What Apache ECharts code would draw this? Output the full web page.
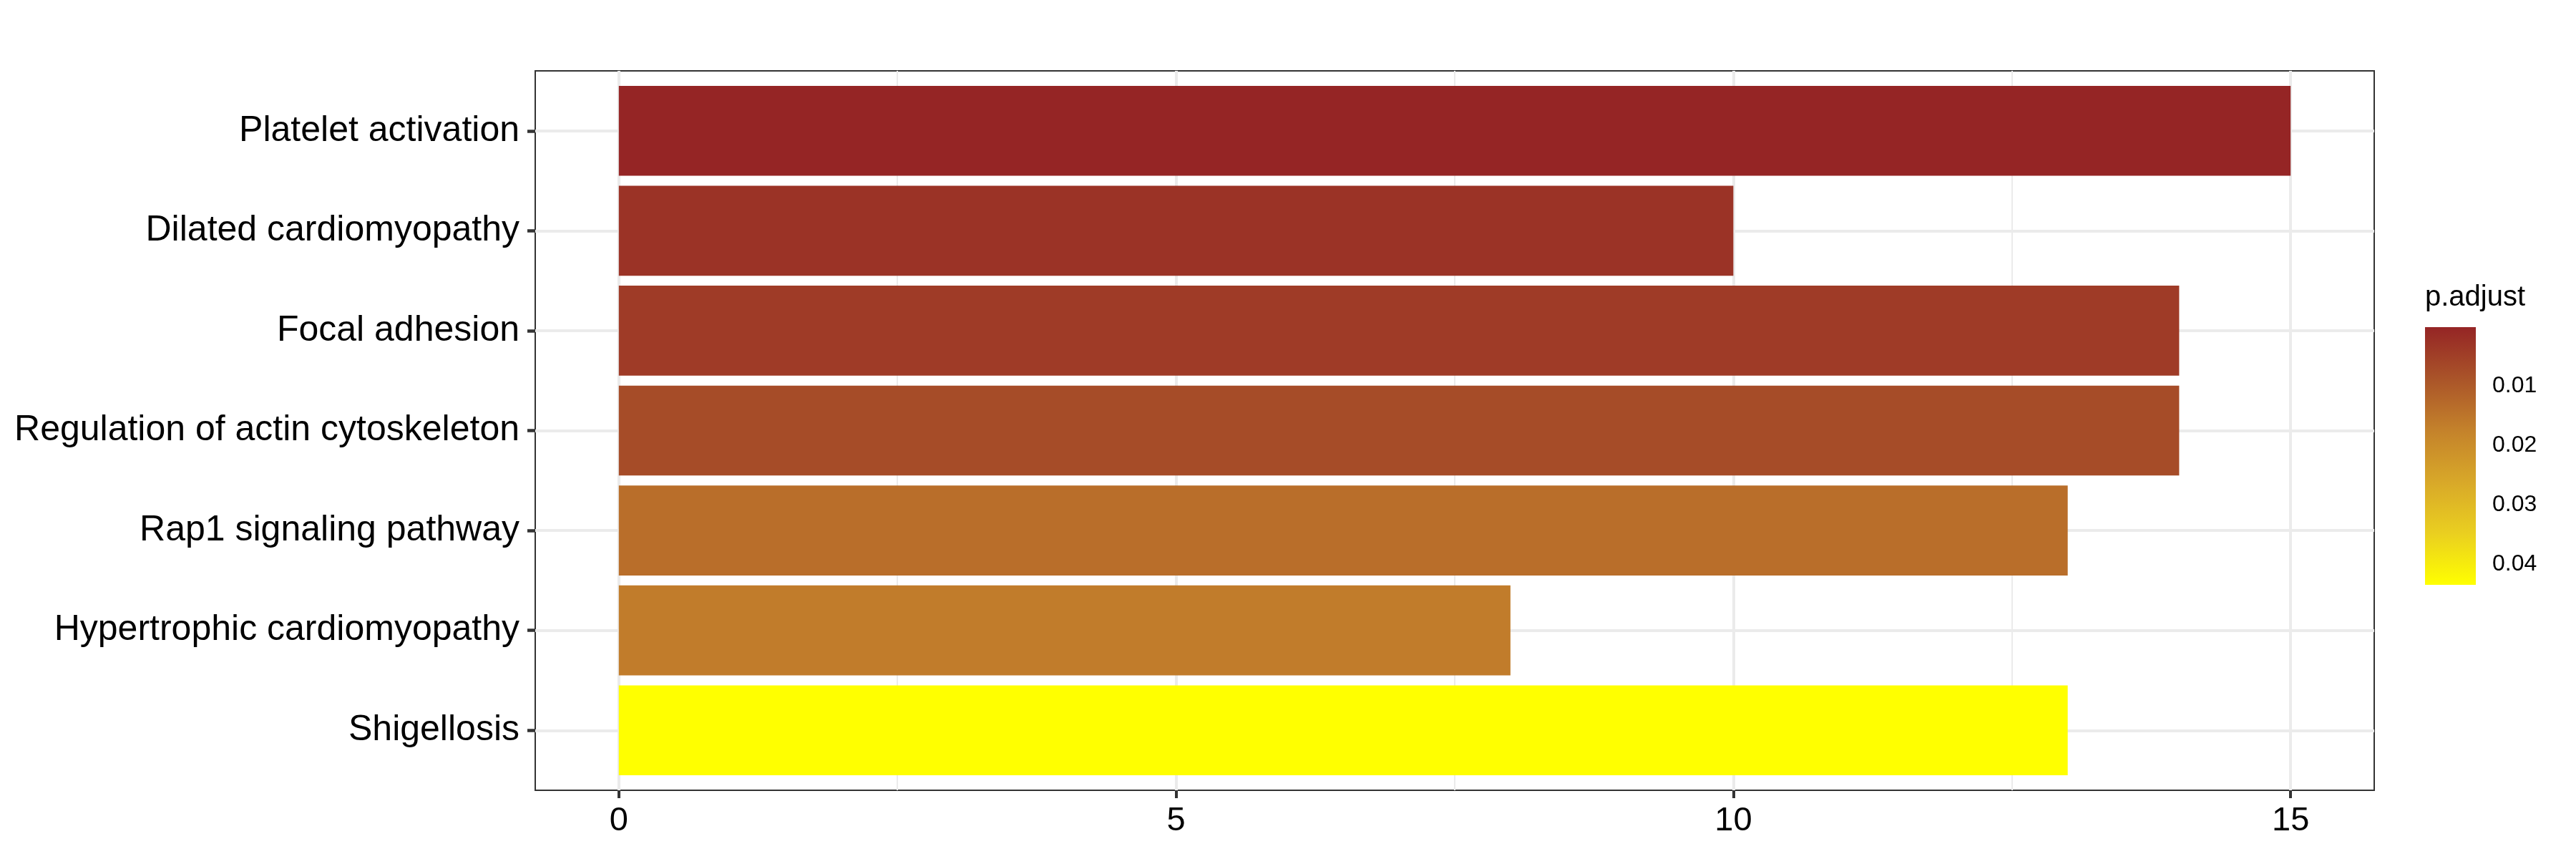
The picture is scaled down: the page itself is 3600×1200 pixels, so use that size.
<!DOCTYPE html>
<html>
<head>
<meta charset="utf-8">
<script src="https://cdn.jsdelivr.net/npm/echarts@6/dist/echarts.min.js"></script>
<style>
  html, body { margin: 0; padding: 0; background: #fff; }
  #chart { width: 3600px; height: 1200px; }
</style>
</head>
<body>
<div id="chart"></div>
<script>
// pathways, top to bottom
var pathways = ['Platelet activation', 'Dilated cardiomyopathy', 'Focal adhesion',
    'Regulation of actin cytoskeleton', 'Rap1 signaling pathway',
    'Hypertrophic cardiomyopathy', 'Shigellosis'];
var counts = [15, 10, 14, 14, 13, 8, 13];
var padjust = [0.00002, 0.0027, 0.0040, 0.0072, 0.0137, 0.0163, 0.0435];
var legendTicks = [0.01, 0.02, 0.03, 0.04];
var colorRamp = ['#952525', '#aa5429', '#c4822b', '#d8a829', '#eacf20', '#ffff00'];

var chart = echarts.init(document.getElementById('chart'));

// panel geometry (ggplot style expand: 0.05 on x, 0.6 units on discrete y)
var panel = {left: 748, right: 3318, top: 99, bottom: 1104};
var xMin = -0.75, xMax = 15.75;
var unit = (panel.right - panel.left) / (xMax - xMin);
var band = (panel.bottom - panel.top) / (pathways.length - 1 + 1.2);
var font = '"Liberation Sans", Arial, sans-serif';

var pMin = Math.min.apply(null, padjust);
var pMax = Math.max.apply(null, padjust);

var barData = [];
for (var i = 0; i < pathways.length; i++) {
    barData.push([counts[i], pathways[i], padjust[i]]);
}

var stops = colorRamp.map(function (c, i) {
    return {offset: i / (colorRamp.length - 1), color: c};
});

option = {
    backgroundColor: '#ffffff',
    animation: false,
    title: {
        text: 'p.adjust',
        left: 3389, top: 396, padding: 0,
        textStyle: {fontFamily: font, fontSize: 40, fontWeight: 'normal', color: '#000'}
    },
    visualMap: {
        show: false,
        type: 'continuous',
        seriesIndex: 0,
        dimension: 2,
        min: pMin, max: pMax,
        inRange: {color: colorRamp}
    },
    grid: [
        // 0: bars + category axis (inset by 0.6 band top/bottom)
        {left: panel.left, width: panel.right - panel.left,
         top: panel.top + 0.6 * band, height: (pathways.length - 1) * band},
        // 1: x axis grid lines/ticks (0..15 horizontally, full height)
        {left: panel.left + (0 - xMin) * unit, width: 15 * unit,
         top: panel.top, height: panel.bottom - panel.top},
        // 2: panel frame
        {show: true, left: panel.left, width: panel.right - panel.left,
         top: panel.top, height: panel.bottom - panel.top,
         borderColor: '#333333', borderWidth: 2, backgroundColor: 'transparent'},
        // 3: colour bar
        {left: 3389, width: 71, top: 457, height: 360}
    ],
    xAxis: [
        {gridIndex: 0, type: 'value', min: xMin, max: xMax, show: false},
        {gridIndex: 1, type: 'value', min: 0, max: 15, interval: 5,
         axisLine: {show: false},
         axisTick: {show: true, length: 11, lineStyle: {color: '#333333', width: 4}},
         axisLabel: {fontFamily: font, fontSize: 47, color: '#000', margin: 20},
         splitLine: {show: true, lineStyle: {color: '#EBEBEB', width: 4}},
         minorTick: {show: false, splitNumber: 2},
         minorSplitLine: {show: true, lineStyle: {color: '#EBEBEB', width: 2}}},
        {gridIndex: 2, type: 'value', show: false},
        {gridIndex: 3, type: 'value', min: 0, max: 1, show: false}
    ],
    yAxis: [
        {gridIndex: 0, type: 'category', data: pathways, inverse: true, boundaryGap: false,
         position: 'left',
         axisLine: {show: false, onZero: false},
         axisTick: {show: true, interval: 0, length: 11, lineStyle: {color: '#333333', width: 4.5}},
         axisLabel: {interval: 0, fontFamily: font, fontSize: 50, color: '#000', margin: 22,
                     padding: [14, 0, 0, 0]},
         splitLine: {show: true, interval: 0, lineStyle: {color: '#EBEBEB', width: 4}}},
        {gridIndex: 1, type: 'value', show: false},
        {gridIndex: 2, type: 'value', show: false},
        {gridIndex: 3, type: 'value', min: pMin, max: pMax, inverse: true, position: 'right',
         axisLine: {show: false}, splitLine: {show: false},
         axisTick: {show: true, inside: true, length: 14, customValues: legendTicks,
                    lineStyle: {color: '#ffffff', width: 2}},
         axisLabel: {customValues: legendTicks, fontFamily: font, fontSize: 32, color: '#000',
                     margin: 23, padding: [8, 0, 0, 0],
                     formatter: function (v) { return v.toFixed(2); }}},
        {gridIndex: 3, type: 'value', min: pMin, max: pMax, inverse: true, position: 'left',
         axisLine: {show: false}, splitLine: {show: false}, axisLabel: {show: false},
         axisTick: {show: true, inside: true, length: 14, customValues: legendTicks,
                    lineStyle: {color: '#ffffff', width: 2}}}
    ],
    series: [
        {
            name: 'Count',
            type: 'bar',
            xAxisIndex: 0, yAxisIndex: 0,
            data: barData,
            encode: {x: 0, y: 1},
            barWidth: 0.9 * band,
            clip: false,
            z: 3
        },
        {
            name: 'colourbar',
            type: 'custom',
            xAxisIndex: 3, yAxisIndex: 3,
            data: [[0, pMin]],
            clip: false,
            z: 1,
            renderItem: function (params, api) {
                var a = api.coord([0, pMin]);
                var b = api.coord([1, pMax]);
                return {
                    type: 'rect',
                    shape: {x: a[0], y: a[1], width: b[0] - a[0], height: b[1] - a[1]},
                    style: {fill: new echarts.graphic.LinearGradient(0, 0, 0, 1, stops)}
                };
            }
        }
    ]
};

chart.setOption(option);
window.addEventListener('resize', function () {
    chart.resize();
});
</script>
</body>
</html>
